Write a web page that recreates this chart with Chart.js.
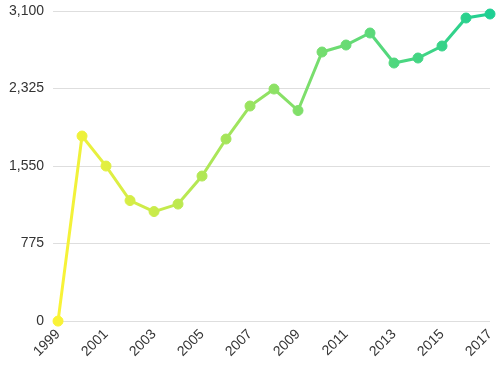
<!DOCTYPE html>
<html>
<head>
<meta charset="utf-8">
<script src="https://cdn.jsdelivr.net/npm/chart.js@4"></script>
<style>
  html, body { margin: 0; padding: 0; background: #fff; }
  #wrap { width: 500px; height: 365px; }
</style>
</head>
<body>
<div id="wrap"><canvas id="myChart"></canvas></div>
<script>
const years = ['1999','2000','2001','2002','2003','2004','2005','2006','2007','2008',
               '2009','2010','2011','2012','2013','2014','2015','2016','2017'];
const values = [0, 1850, 1550, 1205, 1095, 1170, 1450, 1820, 2150, 2320,
                2105, 2690, 2760, 2880, 2580, 2630, 2750, 3030, 3070];
const yTicks = [0, 775, 1550, 2325, 3100];

// horizontal yellow -> teal gradient over the plot area
function lineGradient(context) {
  const chart = context.chart;
  const area = chart.chartArea;
  if (!area) return '#f7f23a';
  const g = chart.ctx.createLinearGradient(area.left, 0, area.right, 0);
  g.addColorStop(0, '#faf336');
  g.addColorStop(1, '#1fcf93');
  return g;
}

const data = {
  labels: years,
  datasets: [{
    data: values,
    borderColor: lineGradient,
    backgroundColor: lineGradient,
    pointBackgroundColor: lineGradient,
    pointBorderColor: lineGradient,
    borderWidth: 3,
    pointRadius: 5,
    pointBorderWidth: 1,
    tension: 0,
    fill: false,
    clip: false
  }]
};

const config = {
  type: 'line',
  data: data,
  options: {
    responsive: true,
    maintainAspectRatio: false,
    animation: false,
    layout: { autoPadding: false, padding: { left: 0, right: 10, top: 11, bottom: 0 } },
    plugins: {
      legend: { display: false },
      tooltip: { enabled: false }
    },
    scales: {
      x: {
        grid: { display: false, drawTicks: false },
        border: { display: false },
        afterFit: s => { s.paddingRight = 0; s.paddingLeft = 0; },
        ticks: {
          autoSkip: false,
          maxRotation: 45,
          minRotation: 45,
          padding: 5,
          color: '#333',
          font: { family: 'Liberation Sans', size: 14 },
          callback: (v, i) => (i % 2 === 0 ? years[i] : null)
        }
      },
      y: {
        min: 0,
        max: 3100,
        afterBuildTicks: axis => { axis.ticks = yTicks.map(v => ({ value: v })); },
        afterFit: s => { s.paddingTop = 0; s.paddingBottom = 0; },
        grid: { color: '#dedede', lineWidth: 1, tickLength: 5, drawTicks: true, tickColor: '#dedede' },
        border: { display: false },
        ticks: {
          padding: 9,
          color: '#333',
          font: { family: 'Liberation Sans', size: 14 },
          callback: v => v.toLocaleString('en-US')
        }
      }
    }
  }
};

var myChart = new Chart(document.getElementById('myChart'), config);
</script>
</body>
</html>
